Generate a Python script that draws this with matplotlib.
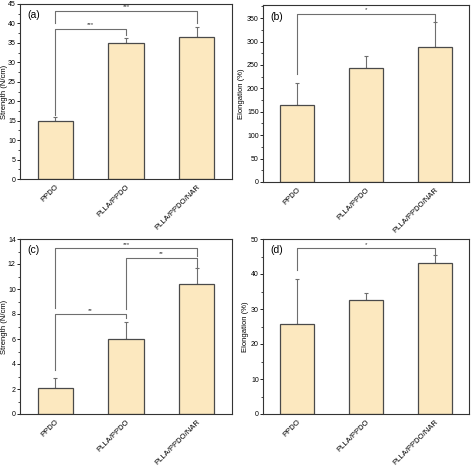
import matplotlib
matplotlib.use("Agg")
import matplotlib.pyplot as plt
from matplotlib.ticker import AutoMinorLocator, MultipleLocator

plt.rcParams['font.family'] = ['Liberation Sans', 'DejaVu Sans']

categories = ["PPDO", "PLLA/PPDO", "PLLA/PPDO/NAR"]

strength_a = [14.8, 34.9, 36.5]
strength_a_err = [1.2, 1.3, 2.5]
elong_b = [164, 244, 288]
elong_b_err = [47, 26, 54]
strength_c = [2.12, 6.03, 10.4]
strength_c_err = [0.75, 1.3, 1.25]
elong_d = [25.6, 32.5, 43.1]
elong_d_err = [12.9, 2.0, 2.3]

# significance brackets: (i, j, bracket height, left leg end, right leg end, label)
sig_a = [(0, 1, 38.7, 16.5, 37.0, "***"), (0, 2, 43.3, 40.0, 40.0, "***")]
sig_b = [(0, 2, 359, 231, 343, "*")]
sig_c = [(0, 1, 7.97, 3.5, 7.65, "**"), (0, 2, 13.25, 8.45, 12.67, "***"),
         (1, 2, 12.5, 8.4, 11.8, "**")]
sig_d = [(0, 2, 47.3, 41.1, 45.6, "*")]

W, H = 475, 467
fig = plt.figure(figsize=(W / 100, H / 100), dpi=100)

def px_axes(l, t, r, b):
    return fig.add_axes([l / W, 1 - b / H, (r - l) / W, (b - t) / H])

bar_color = "#FCE8BF"
edge_color = "#4a4a4a"
line_gray = "#6e6e6e"

def panel(ax, vals, errs, sigs, ylim, major, ylabel, tag, label_x):
    x = list(range(len(categories)))
    ax.bar(x, vals, width=0.5, color=bar_color, edgecolor=edge_color, linewidth=0.9, zorder=2)
    ax.errorbar(x, vals, yerr=[[0] * len(errs), errs], fmt="none", ecolor=line_gray,
                elinewidth=0.8, capsize=1.5, capthick=0.8, zorder=1)
    for i, j, y, yl, yr, lab in sigs:
        ax.plot([i, i, j, j], [yl, y, y, yr], color=line_gray, lw=0.8, zorder=3)
        ax.text((i + j) / 2, y + (ylim[1] - ylim[0]) * 0.008, lab, ha="center", va="bottom",
                fontsize=4.5, color="#333333")
    ax.set_xlim(-0.5, 2.5)
    ax.set_ylim(*ylim)
    ax.yaxis.set_major_locator(MultipleLocator(major))
    ax.yaxis.set_minor_locator(AutoMinorLocator(2))
    ax.set_xticks(x)
    ax.set_xticklabels(categories, rotation=45, ha="right", rotation_mode="anchor", fontsize=5.5)
    ax.tick_params(axis="y", labelsize=5, direction="out", length=2, width=0.6, pad=1)
    ax.tick_params(axis="y", which="minor", length=1.2, width=0.5)
    ax.tick_params(axis="x", length=0, pad=3)
    ax.set_ylabel(ylabel, fontsize=5.5)
    ax.yaxis.set_label_coords(label_x, 0.5)
    for s in ax.spines.values():
        s.set_linewidth(0.8)
        s.set_color("#333333")
    ax.text(0.035, 0.935, tag, transform=ax.transAxes, ha="left", va="center", fontsize=7.5)

axa = px_axes(20, 4, 232, 179)
panel(axa, strength_a, strength_a_err, sig_a, (0, 45), 5, "Strength (N/cm)", "(a)", -0.055)
axb = px_axes(263, 5, 469, 182)
panel(axb, elong_b, elong_b_err, sig_b, (0, 378), 50, "Elongation (%)", "(b)", -0.085)
axc = px_axes(20, 239, 232, 414)
panel(axc, strength_c, strength_c_err, sig_c, (0, 14), 2, "Strength (N/cm)", "(c)", -0.055)
axd = px_axes(263, 239, 469, 414)
panel(axd, elong_d, elong_d_err, sig_d, (0, 50), 10, "Elongation (%)", "(d)", -0.07)

fig.savefig("out.png", dpi=100)
